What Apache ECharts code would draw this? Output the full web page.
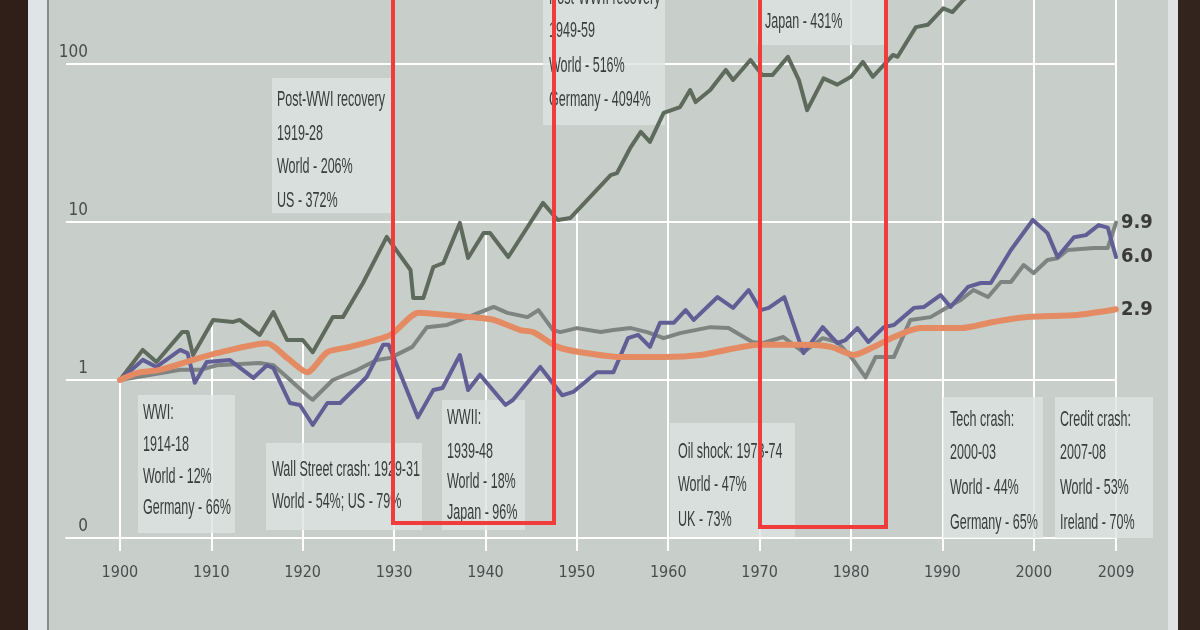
<!DOCTYPE html>
<html><head><meta charset="utf-8">
<script src="https://cdn.jsdelivr.net/npm/echarts@6/dist/echarts.min.js"></script>
<style>html,body{margin:0;padding:0;background:#c8cfcb}#c{width:1200px;height:630px}</style>
</head><body><div id="c"></div>
<script>
// ---------- data (index = 1 in 1900, log scale) ----------
const xTickValues = [1900,1910,1920,1930,1940,1950,1960,1970,1980,1990,2000,2009];
const yTickValues = [0.1,1,10,100];
const yTickLabels = ['0','1','10','100'];

const darkYears  = [1900,1902.5,1904,1906.8,1907.4,1908,1910.2,1912.4,1913.1,1915.3,1916.8,1918.3,1920,1921.1,1923.3,1924.4,1926.6,1929.2,1931.8,1932.1,1933.2,1934.3,1935.4,1937.2,1938.1,1939.8,1940.5,1942.5,1946.3,1947.9,1949.3,1953.7,1954.4,1955.9,1957,1958,1959.5,1961.3,1962.4,1963,1964.6,1966.3,1967.1,1969,1970.3,1971.4,1973.1,1974.3,1975.2,1977,1978.5,1980,1981.3,1982.4,1984.6,1985.1,1987.1,1988.4,1990.1,1991.1,1992.3,1994,1996,1999,2002,2007,2009];
const darkValues = [1.00,1.55,1.30,2.01,2.01,1.44,2.40,2.33,2.40,1.93,2.69,1.79,1.79,1.50,2.50,2.50,4.11,8.04,4.97,3.30,3.30,5.19,5.50,9.86,5.92,8.51,8.51,6.0,13.2,10.3,10.6,19.8,20.4,29.8,37.2,32.1,49,53.4,68.4,57.4,68.4,91.6,79.2,106,85,85,111,79,51,81,74,83,103,83,114,111,171,177,225,213,254,300,380,600,420,700,450];

const grayYears  = [1900,1906.6,1908.8,1910.6,1915.3,1916.8,1918.3,1920.8,1921.1,1923.3,1926,1928.1,1929.6,1932,1933.6,1935.8,1938.7,1940.9,1942.4,1944.6,1945.8,1947.4,1948.2,1950,1952.6,1954,1955.9,1957.7,1959.5,1961.3,1964.6,1966.6,1969.2,1970.3,1972.6,1974.8,1976.9,1978.5,1980,1981.6,1982.7,1984.7,1986.5,1988.7,1990.6,1992,1993.4,1995,1996.4,1997.5,1998.9,2000,2001.5,2002.6,2003.7,2006.6,2008.1,2009];
const grayValues = [1.0,1.16,1.16,1.24,1.28,1.24,1.04,0.77,0.75,1.0,1.16,1.34,1.38,1.62,2.16,2.23,2.58,2.9,2.66,2.5,2.77,2.07,2.01,2.13,2.01,2.07,2.13,2.01,1.84,1.98,2.16,2.13,1.74,1.71,1.87,1.50,1.84,1.74,1.40,1.04,1.40,1.40,2.40,2.5,2.9,3.21,3.71,3.35,4.17,4.17,5.34,4.75,5.75,5.9,6.65,6.85,6.85,9.9];

const purpleYears  = [1900,1902.5,1904,1906.6,1907.4,1908.2,1909.5,1912,1914.6,1916.1,1916.8,1918.6,1919.7,1921.1,1922.7,1924.1,1927,1928.8,1929.4,1932.6,1934.3,1935.3,1937.2,1938.1,1939.4,1942.2,1943,1946,1948.4,1949.6,1952.2,1954,1955.6,1956.7,1958,1959.1,1960.6,1961.9,1962.8,1965.4,1967.1,1968.8,1970.1,1971,1972.7,1974.8,1976.9,1978.5,1979.4,1980.7,1981.9,1983.6,1984.7,1986.9,1988,1989.8,1990.9,1992.8,1994.2,1995.3,1997.5,1999.9,2001.5,2002.6,2004.4,2005.7,2007.1,2008.1,2009];
const purpleValues = [1.0,1.34,1.21,1.55,1.48,0.96,1.30,1.34,1.03,1.24,1.19,0.715,0.695,0.519,0.715,0.715,1.045,1.67,1.67,0.58,0.865,0.89,1.44,0.865,1.08,0.695,0.747,1.21,0.80,0.84,1.12,1.12,1.84,1.93,1.62,2.30,2.30,2.77,2.40,3.35,2.86,3.71,2.77,2.86,3.35,1.48,2.16,1.71,1.79,2.13,1.74,2.16,2.23,2.86,2.9,3.45,2.9,3.88,4.11,4.11,6.65,10.3,8.5,6.0,8.0,8.26,9.56,9.2,6.0];

const orangeYears  = [1900,1901.9,1904.4,1908,1910.6,1916.1,1918.3,1920.5,1922.7,1925.2,1929.6,1932.7,1935.8,1939.4,1940.9,1943.8,1945.2,1947.9,1950.4,1954.8,1959.5,1963.5,1970.1,1974.8,1977.8,1980.3,1982.5,1984.7,1987.6,1992,1995.6,1999.3,2004.8,2009];
const orangeValues = [1.0,1.11,1.16,1.34,1.48,1.71,1.38,1.12,1.50,1.62,1.93,2.66,2.58,2.47,2.4,2.07,2.01,1.62,1.50,1.40,1.40,1.44,1.67,1.67,1.62,1.44,1.62,1.87,2.13,2.13,2.33,2.5,2.58,2.8];

const endLabels = {gray:'9.9', purple:'6.0', orange:'2.9'};

const notes = {
  postWWI:  ['Post-WWI recovery','1919-28','World - 206%','US - 372%'],
  postWWII: ['Post-WWII recovery','1949-59','World - 516%','Germany - 4094%'],
  japan:    ['Japan - 431%'],
  wwi:      ['WWI:','1914-18','World - 12%','Germany - 66%'],
  wallSt:   ['Wall Street crash: 1929-31','World - 54%; US - 79%'],
  wwii:     ['WWII:','1939-48','World - 18%','Japan - 96%'],
  oil:      ['Oil shock: 1973-74','World - 47%','UK - 73%'],
  tech:     ['Tech crash:','2000-03','World - 44%','Germany - 65%'],
  credit:   ['Credit crash:','2007-08','World - 53%','Ireland - 70%']
};

// ---------- layout ----------
const X_MIN = 1894.1, X_MAX = 2009, Y_MIN = 0.1, Y_MAX = 254;
const noteLayout = {
  postWWI:  {x:272,y:78,w:122,h:135,tx:277,ty:[100,134,167,201]},
  postWWII: {x:543,y:-10,w:122,h:135,tx:549,ty:[-2,31,66,100]},
  japan:    {x:757,y:-10,w:128,h:55,tx:765,ty:[22]},
  wwi:      {x:138,y:395,w:97,h:138,tx:143,ty:[413,445,477,508]},
  wallSt:   {x:266,y:443,w:156,h:87,tx:272,ty:[470,502]},
  wwii:     {x:442,y:400,w:83,h:130,tx:447,ty:[418,452,482,513]},
  oil:      {x:670,y:423,w:125,h:114,tx:678,ty:[452,485,520]},
  tech:     {x:943,y:397,w:100,h:141,tx:950,ty:[420,453,488,523]},
  credit:   {x:1055,y:397,w:98,h:141,tx:1060,ty:[420,453,488,523]}
};
const redBoxes = [{x:393,y:-20,w:161,h:543},{x:760,y:-20,w:126,h:547}];

const NARROW = '"Liberation Sans Narrow","DejaVu Sans Condensed","Liberation Sans",sans-serif';
const TEXT = '#3a3c3c';

function pairs(xs, vs){ return xs.map((x,i)=>[x, vs[i]]); }
function darkAt(yr){
  for (let i=1;i<darkYears.length;i++){
    if (darkYears[i] >= yr){
      const a=darkYears[i-1], b=darkYears[i];
      const t=(yr-a)/(b-a);
      return Math.pow(10, Math.log10(darkValues[i-1])*(1-t)+Math.log10(darkValues[i])*t);
    }
  }
  return Y_MAX;
}
function gridTop(yr){ return yr >= 1975 ? Y_MAX : Math.min(Y_MAX, darkAt(yr)); }

const graphics = [];
Object.keys(notes).forEach(k=>{
  const L = noteLayout[k];
  graphics.push({type:'rect', z:2, silent:true, shape:{x:L.x,y:L.y,width:L.w,height:L.h}, style:{fill:'rgba(222,227,226,0.78)'}});
  notes[k].forEach((t,i)=>{
    graphics.push({type:'text', z:4, silent:true, x:L.tx, y:L.ty[i], scaleX:0.57,
      style:{text:t, fill:TEXT, fontSize:22, fontFamily:'"Liberation Sans",Arial,sans-serif', verticalAlign:'middle', align:'left'}});
  });
});
redBoxes.forEach(r=>{
  graphics.push({type:'rect', z:10, silent:true, shape:{x:r.x,y:r.y,width:r.w,height:r.h}, style:{fill:'none', stroke:'#f23b3b', lineWidth:4}});
});
// projector frame
graphics.push({type:'rect', z:20, silent:true, shape:{x:0,y:0,width:28,height:630}, style:{fill:'#2f1f18'}});
graphics.push({type:'rect', z:20, silent:true, shape:{x:28,y:0,width:19,height:630}, style:{fill:'#dfe4e6'}});
graphics.push({type:'rect', z:20, silent:true, shape:{x:47,y:0,width:2,height:630}, style:{fill:'#858d8b'}});
graphics.push({type:'rect', z:20, silent:true, shape:{x:1168,y:0,width:10,height:630}, style:{fill:'#dfe3e3'}});
graphics.push({type:'rect', z:20, silent:true, shape:{x:1178,y:0,width:22,height:630}, style:{fill:'#33251e'}});

function lineSeries(name, xs, vs, color, width, label){
  return {
    name, type:'line', data:pairs(xs, vs), z:3, showSymbol:false, symbol:'none',
    lineStyle:{color, width, cap:'round', join:'round'}, itemStyle:{color},
    endLabel: label ? {show:true, formatter:()=>label, color:'#3a3a3a', fontSize:20, fontWeight:'bold', fontFamily:NARROW, distance:5} : {show:false}
  };
}

const chart = echarts.init(document.getElementById('c'));
chart.setOption({
  animation:false,
  backgroundColor:'#c8cfcb',
  grid:{left:66, right:84, top:0, bottom:92, containLabel:false},
  xAxis:{
    type:'value', min:X_MIN, max:X_MAX,
    axisLine:{show:true, lineStyle:{color:'#ffffff', width:2}},
    axisTick:{show:true, customValues:xTickValues, length:13, inside:false, lineStyle:{color:'#ffffff', width:2}},
    axisLabel:{customValues:xTickValues, margin:27, color:'#4a4d4d', fontSize:16, fontFamily:NARROW, formatter:v=>String(v)},
    splitLine:{show:false}
  },
  yAxis:{
    type:'log', logBase:10, min:Y_MIN, max:Y_MAX,
    axisLine:{show:false}, axisTick:{show:false},
    axisLabel:{inside:true, margin:22, align:'right', verticalAlign:'bottom', padding:[0,0,3,0],
      color:'#4a4d4d', fontSize:17, fontFamily:NARROW,
      formatter:v=>{ const i = yTickValues.findIndex(t=>Math.abs(t-v)/t < 1e-6); return i>=0 ? yTickLabels[i] : ''; }},
    splitLine:{show:false}
  },
  graphic:{elements:graphics},
  series:[
    {type:'line', data:[], z:1, silent:true,
     markLine:{z:1, silent:true, symbol:'none', animation:false, label:{show:false},
       lineStyle:{color:'#ffffff', width:2, type:'solid'},
       data: xTickValues.map(yr=>[{coord:[yr, Y_MIN]},{coord:[yr, gridTop(yr)]}])
         .concat(yTickValues.map(v=>({yAxis:v})))}},
    lineSeries('dark', darkYears, darkValues, '#5e6a5c', 4, null),
    lineSeries('gray', grayYears, grayValues, '#7f8382', 4, endLabels.gray),
    lineSeries('purple', purpleYears, purpleValues, '#625d95', 4, endLabels.purple),
    Object.assign(lineSeries('orange', orangeYears, orangeValues, '#e48b63', 6, endLabels.orange), {smooth:0.25})
  ]
});
</script></body></html>
